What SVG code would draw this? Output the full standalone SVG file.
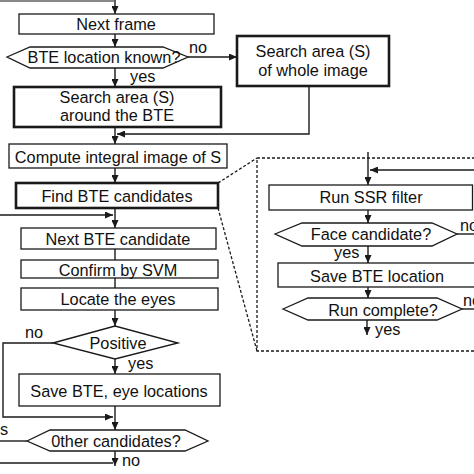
<svg xmlns="http://www.w3.org/2000/svg" width="474" height="474" viewBox="0 0 474 474">
<defs>
<marker id="arr" markerUnits="userSpaceOnUse" markerWidth="8" markerHeight="7" refX="8" refY="3.5" orient="auto">
<path d="M0,0 L8,3.5 L0,7 z" fill="#1a1a1a"/>
</marker>
<style>
text{font-family:"Liberation Sans",Arial,sans-serif;font-size:16.3px;fill:#111}
.m{text-anchor:middle}
.b{fill:#fff;stroke:#1a1a1a;stroke-width:1.3}
.t{fill:#fff;stroke:#1a1a1a;stroke-width:2.6}
.c{fill:none;stroke:#1a1a1a;stroke-width:1.4}
.a{marker-end:url(#arr)}
.d{fill:none;stroke:#1a1a1a;stroke-width:1.3;stroke-dasharray:3 2}
</style>
</defs>
<rect width="474" height="474" fill="#fff"/>
<g id="connectors">
<path d="M0,1 H114" stroke="#888" stroke-width="2" fill="none"/>
<path class="c a" d="M115,0 V14"/>
<path class="c a" d="M115,34 V47"/>
<path class="c a" d="M188,57 H237"/>
<path class="c a" d="M115,68 V87"/>
<path class="c a" d="M309,86 V134 H117"/>
<path class="c a" d="M115,127 V144"/>
<path class="c a" d="M115,168 V183"/>
<path class="c a" d="M115,208 V228"/>
<path class="c a" d="M0,215 H113"/>
<path class="c" d="M115,249 V260 M115,278 V288"/>
<path class="c a" d="M115,310 V326"/>
<path class="c a" d="M53,343 H3 V417 H113"/>
<path class="c a" d="M115,359 V374"/>
<path class="c a" d="M115,406 V430"/>
<path class="c" d="M27,441 H0"/>
<path class="c a" d="M115,451 V466"/>
<path class="c" d="M0,463 H113"/>
<path class="d" d="M218,183 L257,158 M218,208 L257,351"/>
<path class="d" d="M480,158 H257 V351 H480"/>
<path class="c a" d="M368,152 V185"/>
<path class="c a" d="M474,170 H370"/>
<path class="c a" d="M368,210 V223"/>
<path class="c" d="M457,234 H474"/>
<path class="c a" d="M368,246 V263"/>
<path class="c a" d="M368,287 V298"/>
<path class="c" d="M462,309 H474"/>
<path class="c a" d="M367,320 V335"/>
<text x="189" y="53">no</text>
<text x="130" y="82">yes</text>
<text x="25" y="338">no</text>
<text x="128" y="369">yes</text>
<text x="0" y="435">s</text>
<text x="122" y="466">no</text>
<text x="460" y="231">no</text>
<text x="334" y="258">yes</text>
<text x="463" y="306">no</text>
<text x="375" y="335">yes</text>
</g>
<g id="next_frame"><rect class="b" x="19" y="14" width="195" height="20"/><text class="m" x="116" y="30">Next frame</text></g>
<g id="bte_known"><polygon class="b" points="7,57 30,47 163,47 188,57 163,68 30,68"/><text class="m" x="104" y="63">BTE location known?</text></g>
<g id="search_whole"><rect class="t" x="237" y="36" width="152" height="50"/><text class="m" x="313" y="57">Search area (S)</text><text class="m" x="313" y="76">of whole image</text></g>
<g id="search_bte"><rect class="t" x="14" y="87" width="207" height="40"/><text class="m" x="117" y="103">Search area (S)</text><text class="m" x="117" y="121">around the BTE</text></g>
<g id="compute"><rect class="b" x="9" y="144" width="218" height="24"/><text class="m" x="118" y="163">Compute integral image of S</text></g>
<g id="find"><rect class="t" x="16" y="183" width="202" height="25" stroke-width="3"/><text class="m" x="117" y="202">Find BTE candidates</text></g>
<g id="next_bte"><rect class="b" x="21" y="228" width="195" height="21"/><text class="m" x="118" y="245">Next BTE candidate</text></g>
<g id="confirm"><rect class="b" x="21" y="260" width="197" height="18"/><text class="m" x="118" y="276">Confirm by SVM</text></g>
<g id="locate"><rect class="b" x="21" y="288" width="197" height="22"/><text class="m" x="118" y="305">Locate the eyes</text></g>
<g id="positive"><polygon class="b" points="53,343 115,326 178,343 115,359"/><text class="m" x="118" y="349">Positive</text></g>
<g id="save_eye"><rect class="b" x="19" y="374" width="201" height="32"/><text class="m" x="119" y="397">Save BTE, eye locations</text></g>
<g id="other"><polygon class="b" points="27,441 50,430 185,430 208,441 185,451 50,451"/><text class="m" x="116" y="447">0ther candidates?</text></g>
<g id="run_ssr"><rect class="b" x="269" y="185" width="203.5" height="25"/><text class="m" x="371" y="203">Run SSR filter</text></g>
<g id="face"><polygon class="b" points="275,234 302,223 432,223 457,234 432,246 302,246"/><text class="m" x="371" y="240">Face candidate?</text></g>
<g id="save_loc"><rect class="b" x="278" y="263" width="210" height="24"/><text class="m" x="377" y="282">Save BTE location</text></g>
<g id="run_complete"><polygon class="b" points="283,309 308,298 437,298 462,309 437,320 308,320"/><text class="m" x="383" y="316">Run complete?</text></g>
</svg>
